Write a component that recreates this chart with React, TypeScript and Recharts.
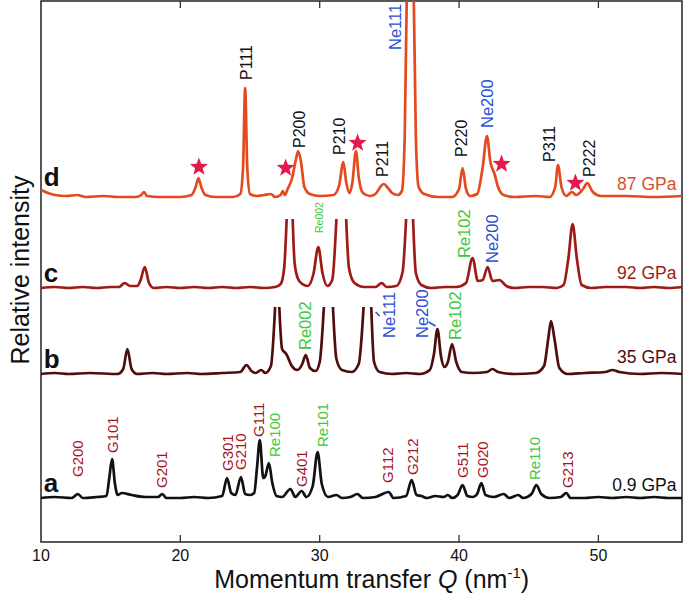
import { LineChart, Line, XAxis, YAxis, ReferenceDot, ReferenceLine, ReferenceArea } from 'recharts'

// XRD patterns, [Q (nm^-1), intensity above own baseline]; null = clipped peak top
const patternA: [number, number | null][] = [
  [10, 0], [11, 1], [12.2, 0], [12.65, 4], [13.0, 0], [14.0, 1], [14.7, 2], [14.9, 20], [15.1, 39], [15.3, 15],
  [15.5, 3], [15.8, 5], [16.5, 3], [17.5, 1], [18.4, 1], [18.7, 4], [19.0, 0], [20, 0], [21, 1], [22, 0],
  [23.0, 2], [23.35, 20], [23.65, 5], [23.95, 3], [24.35, 21], [24.65, 4], [25.0, 3], [25.3, 5], [25.5, 30], [25.7, 58],
  [25.95, 20], [26.1, 22], [26.35, 35], [26.6, 15], [26.9, 2], [27.3, 1], [27.9, 9], [28.25, 1], [28.7, 7], [29.05, 1],
  [29.5, 12], [29.85, 46], [30.15, 14], [30.6, 1], [31.2, 3], [31.6, 0], [32.2, 1], [32.7, 4], [33.1, 0], [34.0, 1],
  [34.95, 6], [35.3, 0], [36.2, 2], [36.6, 18], [36.95, 3], [37.3, 2], [37.7, 0], [38.3, 2], [38.9, 1], [39.2, 3],
  [39.5, 0], [39.9, 3], [40.25, 13], [40.6, 2], [41.0, 1], [41.3, 4], [41.6, 15], [41.9, 3], [42.5, 1], [43.2, 4],
  [43.6, 0], [44.25, 3], [44.6, 0], [45.2, 4], [45.55, 13], [45.9, 4], [46.5, 0], [47.3, 1], [47.7, 5], [48.0, 0],
  [49, 0], [50, 1], [51, 0], [52, 1], [53, 0], [54, 1], [55, 0], [56, 0],
]

const patternB: [number, number | null][] = [
  [10, 0], [11, 1], [12, 0], [13.5, 1], [15.5, 0], [15.9, 5], [16.2, 25], [16.5, 5], [16.9, 0], [18, 1],
  [19, 0], [20.5, 1], [21.5, 0], [23, 1], [24.3, 2], [24.75, 9], [25.1, 3], [25.4, 1], [25.8, 4], [26.1, 1],
  [26.5, 8], [26.8, 67], [26.95, null], [27.1, 67], [27.3, 25], [27.6, 20], [28.0, 8], [28.4, 4], [28.75, 10], [29.0, 19],
  [29.3, 6], [29.7, 3], [30.0, 12], [30.3, 67], [30.6, null], [30.95, 67], [31.2, 15], [31.6, 4], [32.3, 2], [32.8, 10],
  [33.15, 67], [33.4, null], [33.7, 67], [33.9, 12], [34.3, 2], [35.2, 0], [36.2, 1], [37.2, 0], [37.9, 4], [38.2, 20],
  [38.45, 45], [38.7, 18], [38.95, 7], [39.2, 12], [39.5, 30], [39.8, 12], [40.2, 2], [41, 1], [42, 2], [42.4, 5],
  [42.8, 2], [44, 0], [45.5, 1], [46.1, 8], [46.4, 35], [46.6, 53], [46.85, 35], [47.2, 6], [47.8, 0], [49, 1],
  [50.5, 2], [51, 4], [51.5, 2], [53, 0], [54.5, 1], [56, 0],
]

const patternC: [number, number | null][] = [
  [10, 0], [11, 1], [12, 0], [13, 1], [14, 0], [15, 1], [15.6, 1], [16.0, 5], [16.4, 2], [16.9, 2],
  [17.15, 8], [17.45, 21], [17.75, 5], [18.1, 0], [19, 1], [20, 0], [21, 1], [22, 0], [23, 1], [24, 0],
  [25, 1], [26, 0], [26.8, 1], [27.2, 4], [27.45, 20], [27.63, 69], [27.85, null], [28.06, 69], [28.2, 25], [28.45, 9],
  [28.75, 4], [29.15, 2], [29.55, 14], [29.9, 41], [30.2, 15], [30.55, 2], [30.9, 8], [31.2, 69], [31.55, null], [31.9, 69],
  [32.1, 20], [32.5, 5], [33.2, 1], [34.0, 1], [34.45, 5], [34.8, 1], [35.5, 2], [35.95, 16], [36.2, 69], [36.45, null],
  [36.7, 69], [36.9, 15], [37.3, 3], [38, 0], [39, 1], [39.8, 1], [40.5, 5], [40.97, 30], [41.35, 7], [41.7, 8],
  [42.05, 21], [42.4, 7], [42.9, 8], [43.4, 2], [44, 0], [45, 1], [46, 1], [47, 0], [47.5, 3], [47.85, 30],
  [48.15, 64], [48.45, 30], [48.8, 3], [49.5, 0], [50.5, 1], [52, 1], [53, 0], [54, 1], [55, 0], [56, 1],
]

const patternD: [number, number | null][] = [
  [10, 7], [10.5, 4], [11, 2], [11.8, 1], [12.6, 2], [13.2, 0], [14.5, 1], [15.5, 0], [16.8, 0], [17.2, 2],
  [17.4, 5], [17.6, 1], [18.5, 0], [20, 0], [20.8, 2], [21.1, 10], [21.3, 19], [21.5, 10], [21.8, 2], [22.5, 0],
  [23.8, 0], [24.3, 3], [24.5, 30], [24.65, 109], [24.8, 30], [25, 3], [25.5, 1], [26, 2], [26.5, 3], [26.8, 0],
  [27.2, 2], [27.35, 6], [27.5, 2], [27.7, 8], [28, 18], [28.3, 38], [28.45, 46], [28.65, 36], [28.9, 10], [29.3, 3],
  [30, 1], [31, 2], [31.4, 12], [31.7, 35], [31.9, 15], [32.15, 4], [32.35, 15], [32.6, 46], [32.8, 20], [33.1, 4],
  [33.6, 1], [34, 3], [34.4, 11], [34.6, 13], [34.9, 9], [35.2, 4], [35.6, 2], [35.9, 6], [36.1, 60], [36.25, 200],
  [36.5, 600], [36.75, 200], [36.9, 60], [37.1, 10], [37.5, 3], [38.5, 0], [39.5, 0], [40, 8], [40.25, 29], [40.5, 8],
  [40.8, 1], [41.3, 3], [41.7, 30], [42, 61], [42.25, 35], [42.55, 23], [42.8, 10], [43.2, 2], [44, 0], [45.5, 1],
  [46.5, 0], [46.9, 10], [47.1, 32], [47.35, 10], [47.7, 1], [48.1, 5], [48.4, 2], [48.9, 8], [49.2, 14], [49.6, 5],
  [50.2, 1], [52, 1], [54, 0], [56, 1],
]

// vertical offset of each pattern in the stack
const offsets = { a: 44, b: 168, c: 254, d: 345 }
const xTicks = [10, 20, 30, 40, 50]
const Y_MAX = 541

const BLACK = '#111111'
const BLUE = '#2b4fd6'
const GREEN = '#3ec83a'
const GRED = '#a3161f'
const FONT = '"Liberation Sans", Arial, Helvetica, sans-serif'
const PS = 16
const NS = 16.5
const GS = 15

const peakLabels = [
  // d
  { t: 'P111', q: 24.77, v: 462, c: BLACK, s: PS },
  { t: 'P200', q: 28.57, v: 394, c: BLACK, s: PS },
  { t: 'P210', q: 31.43, v: 387, c: BLACK, s: PS },
  { t: 'P211', q: 34.52, v: 365, c: BLACK, s: PS },
  { t: 'Ne111', q: 35.38, v: 492, c: BLUE, s: NS },
  { t: 'P220', q: 40.18, v: 385, c: BLACK, s: PS },
  { t: 'Ne200', q: 42.04, v: 414, c: BLUE, s: NS },
  { t: 'P311', q: 46.49, v: 380, c: BLACK, s: PS },
  { t: 'P222', q: 49.35, v: 365, c: BLACK, s: PS },
  // c
  { t: 'Re002', q: 29.93, v: 309, c: GREEN, s: 10.5 },
  { t: 'Re102', q: 40.39, v: 284, c: GREEN, s: NS },
  { t: 'Ne200', q: 42.4, v: 279, c: BLUE, s: NS },
  // b
  { t: 'Re002', q: 28.92, v: 192, c: GREEN, s: NS },
  { t: 'Ne111', q: 34.95, v: 204, c: BLUE, s: NS },
  { t: 'Ne200', q: 37.31, v: 204, c: BLUE, s: NS },
  { t: 'Re102', q: 39.68, v: 202, c: GREEN, s: NS },
  // a
  { t: 'G200', q: 12.65, v: 65, c: GRED, s: GS },
  { t: 'G101', q: 15.16, v: 89, c: GRED, s: GS },
  { t: 'G201', q: 18.67, v: 54, c: GRED, s: GS },
  { t: 'G301', q: 23.41, v: 71, c: GRED, s: GS },
  { t: 'G210', q: 24.34, v: 72, c: GRED, s: GS },
  { t: 'G111', q: 25.63, v: 105, c: GRED, s: GS },
  { t: 'Re100', q: 26.77, v: 85, c: GREEN, s: GS },
  { t: 'G401', q: 28.71, v: 55, c: GRED, s: GS },
  { t: 'Re101', q: 30.22, v: 95, c: GREEN, s: GS },
  { t: 'G112', q: 34.87, v: 59, c: GRED, s: GS },
  { t: 'G212', q: 36.67, v: 67, c: GRED, s: GS },
  { t: 'G511', q: 40.25, v: 64, c: GRED, s: GS },
  { t: 'G020', q: 41.68, v: 64, c: GRED, s: GS },
  { t: 'Re110', q: 45.41, v: 62, c: GREEN, s: GS },
  { t: 'G213', q: 47.78, v: 54, c: GRED, s: GS },
]

const stars = [
  { q: 21.33, v: 375 },
  { q: 27.56, v: 374 },
  { q: 32.72, v: 399 },
  { q: 43.05, v: 378 },
  { q: 48.35, v: 359 },
]

const series = [
  { key: 'a', pts: patternA, color: '#111111', letter: 'a', lv: 50, p: '0.9 GPa', pv: 51 },
  { key: 'b', pts: patternB, color: '#4f0d0e', letter: 'b', lv: 174, p: '35 GPa', pv: 179 },
  { key: 'c', pts: patternC, color: '#9c1b16', letter: 'c', lv: 260, p: '92 GPa', pv: 263 },
  { key: 'd', pts: patternD, color: '#e44a1e', letter: 'd', lv: 356, p: '87 GPa', pv: 352 },
]
const pressureColors: Record<string, string> = { a: '#111111', b: '#4f0d0e', c: '#9c1b16', d: '#d9502e' }

const toRows = (pts: [number, number | null][], off: number) =>
  pts.map(([q, h]) => ({ q, v: h === null ? null : h + off }))

const RotText = (t: string, c: string, s: number) => (p: any) => (
  <text x={p.cx} y={p.cy} transform={`rotate(-90 ${p.cx} ${p.cy})`} fill={c} fontSize={s}
    fontFamily={FONT} textAnchor="start" dominantBaseline="central">{t}</text>
)

const Star = (p: any) => {
  const pts: string[] = []
  for (let i = 0; i < 10; i++) {
    const r = i % 2 === 0 ? 9.5 : 3.9
    const a = -Math.PI / 2 + (i * Math.PI) / 5
    pts.push(`${p.cx + r * Math.cos(a)},${p.cy + r * Math.sin(a)}`)
  }
  return <polygon points={pts.join(' ')} fill="#e5184b" />
}

export default function App() {
  return (
    <div style={{ position: 'absolute', left: 0, top: 0, background: '#fff' }}>
      <style>{'body{margin:0}'}</style>
      <LineChart width={685} height={596} margin={{ top: 1, right: 3, bottom: 24, left: 41 }}>
        <XAxis dataKey="q" type="number" domain={[10, 56]} allowDataOverflow ticks={xTicks}
          height={30} axisLine={false} tickLine={false} tickSize={4} tickMargin={4}
          tick={{ fill: '#111', fontSize: 16, fontFamily: FONT }} />
        <YAxis type="number" domain={[0, Y_MAX]} allowDataOverflow width={0} hide />

        {series.map((s) => (
          <Line key={s.key} data={toRows(s.pts, offsets[s.key as keyof typeof offsets])} dataKey="v"
            type="monotone" stroke={s.color} strokeWidth={2.7} dot={false} isAnimationActive={false}
            connectNulls={false} />
        ))}

        {/* frame and inward ticks, top and bottom */}
        <ReferenceArea x1={10} x2={56} y1={0} y2={Y_MAX} fill="none" stroke="#222" strokeWidth={1.5} ifOverflow="visible" />
        {xTicks.slice(1).map((t) => (
          <ReferenceLine key={`tb${t}`} segment={[{ x: t, y: 0 }, { x: t, y: 7 }]} stroke="#333" strokeWidth={1.3} />
        ))}
        {xTicks.slice(1).map((t) => (
          <ReferenceLine key={`tt${t}`} segment={[{ x: t, y: Y_MAX - 7 }, { x: t, y: Y_MAX }]} stroke="#333" strokeWidth={1.3} />
        ))}

        {peakLabels.map((l, i) => (
          <ReferenceDot key={`pl${i}`} x={l.q} y={l.v} r={0} ifOverflow="visible" shape={RotText(l.t, l.c, l.s)} />
        ))}
        <ReferenceLine segment={[{ x: 34.01, y: 230 }, { x: 34.3, y: 226 }]} stroke={BLUE} strokeWidth={1.5} ifOverflow="visible" />
        <ReferenceLine segment={[{ x: 37.81, y: 220 }, { x: 38.32, y: 216 }]} stroke={BLUE} strokeWidth={1.5} ifOverflow="visible" />

        {stars.map((s, i) => (
          <ReferenceDot key={`st${i}`} x={s.q} y={s.v} r={0} ifOverflow="visible" shape={Star} />
        ))}

        {series.map((s) => (
          <ReferenceDot key={`lt${s.key}`} x={10.2} y={s.lv} r={0} ifOverflow="visible"
            shape={(p: any) => (
              <text x={p.cx} y={p.cy} fontSize={26} fontWeight="bold" fontFamily={FONT} fill="#111">{s.letter}</text>
            )} />
        ))}
        {series.map((s) => (
          <ReferenceDot key={`pr${s.key}`} x={55.6} y={s.pv} r={0} ifOverflow="visible"
            shape={(p: any) => (
              <text x={p.cx} y={p.cy} fontSize={17.5} textAnchor="end" fontFamily={FONT}
                fill={pressureColors[s.key]}>{s.p}</text>
            )} />
        ))}

        <ReferenceDot x={33.73} y={-46} r={0} ifOverflow="visible"
          shape={(p: any) => (
            <text x={p.cx} y={p.cy} fontSize={25} textAnchor="middle" fontFamily={FONT} fill="#111">
              Momentum transfer <tspan fontStyle="italic">Q</tspan> (nm<tspan dy={-10} fontSize={15}>-1</tspan><tspan dy={10}>)</tspan>
            </text>
          )} />
        <ReferenceDot x={8.5} y={272} r={0} ifOverflow="visible"
          shape={(p: any) => (
            <text x={p.cx} y={p.cy} transform={`rotate(-90 ${p.cx} ${p.cy})`} fontSize={25} textAnchor="middle"
              dominantBaseline="central" fontFamily={FONT} fill="#111">Relative intensity</text>
          )} />
      </LineChart>
    </div>
  )
}
